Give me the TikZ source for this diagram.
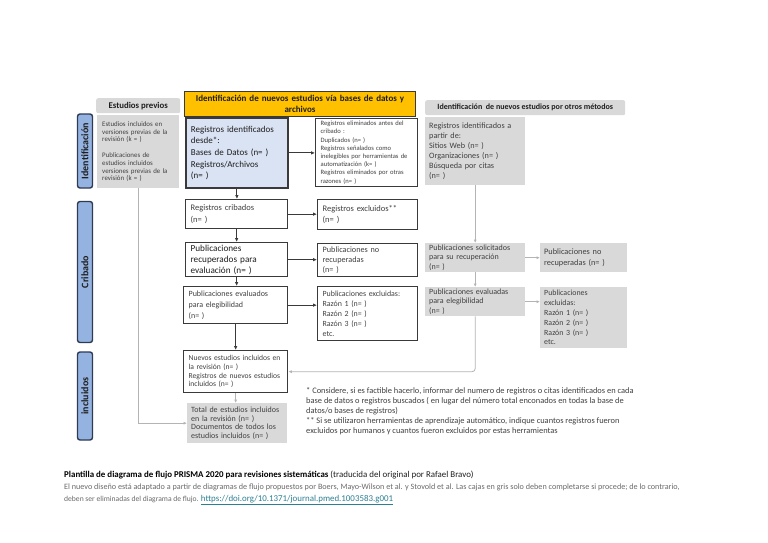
\documentclass[tikz,border=0pt]{standalone}
\usepackage{fontspec}
\setmainfont{Carlito}
\usetikzlibrary{arrows.meta}
\definecolor{bord}{HTML}{3A3A3A}
\definecolor{txt}{HTML}{404040}
\definecolor{dtxt}{HTML}{1E1E1E}
\definecolor{bluefill}{HTML}{DAE3F3}
\definecolor{orangefill}{HTML}{FFC000}
\definecolor{gfill}{HTML}{D9D9D9}
\definecolor{sidefill}{HTML}{95B3E0}
\definecolor{sidebord}{HTML}{2E3B55}
\definecolor{larr}{HTML}{B4B4B4}
\definecolor{foottxt}{HTML}{6A6A6A}
\definecolor{linkc}{HTML}{2A7F93}
\newcommand\fs[2]{\fontsize{#1}{#2}\selectfont}
\tikzset{
  bx/.style={draw=bord, line width=1.3pt, fill=white, anchor=north west, align=left,
    inner xsep=5pt, inner ysep=1pt, text=txt},
  gbx/.style={fill=gfill, anchor=north west, align=left, inner xsep=4pt, inner ysep=1pt, text=txt},
  ghdr/.style={fill=gfill, rounded corners=2pt, anchor=north west, align=center, inner sep=0pt, text=dtxt},
  side/.style={draw=sidebord, line width=1.4pt, fill=sidefill, rounded corners=2.5pt, rotate=90,
    inner sep=0pt, font=\bfseries\fs{10}{12}, text=dtxt},
  darr/.style={draw=bord, line width=0.9pt, -{Latex[length=4pt,width=3.6pt]}},
  larrow/.style={draw=larr, line width=0.8pt, -{Latex[length=3.5pt,width=3pt]}},
  footline/.style={anchor=base west, inner sep=0pt, text=foottxt, font=\fs{7.6}{9}},
}
\begin{document}
\begin{tikzpicture}[x=1pt,y=-1pt]
\useasboundingbox (0,0) rectangle (768,543);
\fill[white] (0,0) rectangle (768,543);

% side bars
\node[side, minimum width=74, minimum height=15] (s1) at (85,151) {Identificación};
\node[side, minimum width=141, minimum height=15] (s2) at (85,272) {Cribado};
\node[side, minimum width=88, minimum height=15] (s3) at (85,396) {incluidos};

% previous studies
\node[ghdr, minimum width=84, minimum height=15, font=\bfseries\fs{8.8}{10}] (K) at (96,98) {Estudios previos};
\node[gbx, minimum width=81, minimum height=73, text width=72, font=\fs{6.9}{7.8}, inner xsep=5pt] (L) at (97,115)
 {Estudios incluidos en\\versiones previas de la\\revisión (k = )\\[7.8pt]Publicaciones de\\estudios incluidos\\versiones previas de la\\revisión (k = )};

% main column
\node[draw=bord, line width=1pt, fill=orangefill, anchor=north west, minimum width=231, minimum height=25,
  text width=225, inner sep=0pt, align=center, text=dtxt, font=\bfseries\fs{9}{10.5}] (hA) at (184,91)
 {Identificación de nuevos estudios vía bases de datos y\\archivos};
\node[bx, fill=bluefill, line width=1.8pt, minimum width=102, minimum height=70, text width=92, text=dtxt, font=\fs{9}{11.6}] (A) at (185,117)
 {Registros identificados\\desde*:\\Bases de Datos (n= )\\Registros/Archivos\\(n= )};
\node[bx, minimum width=102, minimum height=68, text width=92, font=\fs{6.6}{8.2}] (B) at (315,118)
 {Registros eliminados antes del\\cribado :\\Duplicados (n= )\\Registros señalados como\\inelegibles por herramientas de\\automatización (k= )\\Registros eliminados por otras\\razones (n= )};
\node[bx, minimum width=102, minimum height=29, text width=92, font=\fs{8.5}{11.5}] (C) at (185,199)
 {Registros cribados\\(n= )};
\node[bx, minimum width=100, minimum height=30, text width=90, font=\fs{8.5}{11.5}] (D) at (317,199)
 {Registros excluidos**\\(n= )};
\node[bx, minimum width=102, minimum height=34, text width=92, text=dtxt, font=\fs{9.2}{10.8}] (E) at (185,242)
 {Publicaciones\\recuperados para\\evaluación (n= )};
\node[bx, minimum width=100, minimum height=33, text width=90, font=\fs{8.2}{10}] (F) at (317,243)
 {Publicaciones no\\recuperadas\\(n= )};
\node[bx, minimum width=104, minimum height=37, text width=94, font=\fs{8}{10.8}] (G) at (183,286)
 {Publicaciones evaluados\\para elegibilidad\\(n= )};
\node[bx, minimum width=100, minimum height=54, text width=90, font=\fs{7.9}{10}] (H) at (317,286)
 {Publicaciones excluidas:\\Razón 1 (n= )\\Razón 2 (n= )\\Razón 3 (n= )\\etc.};
\node[bx, minimum width=104, minimum height=42, text width=94, font=\fs{7.6}{8.6}] (I) at (183,350)
 {Nuevos estudios incluidos en\\la revisión (n= )\\Registros de nuevos estudios\\incluidos (n= )};
\node[gbx, minimum width=100, minimum height=40, text width=92, font=\fs{8}{8.8}] (J) at (187,403)
 {Total de estudios incluidos\\en la revisión (n= )\\Documentos de todos los\\estudios incluidos (n= )};

% other methods column
\node[ghdr, minimum width=200, minimum height=15, font=\bfseries\fs{8}{9}] (M) at (425,100)
 {Identificación\ \ de nuevos estudios por otros métodos};
\node[gbx, minimum width=100, minimum height=68, text width=92, font=\fs{8.2}{10}] (N) at (425,117)
 {Registros identificados a\\partir de:\\Sitios Web (n= )\\Organizaciones (n= )\\Búsqueda por citas\\(n= )};
\node[gbx, minimum width=100, minimum height=29, text width=92, font=\fs{8}{9.2}] (O) at (425,243)
 {Publicaciones solicitados\\para su recuperación\\(n= )};
\node[gbx, minimum width=87, minimum height=29, text width=79, font=\fs{8.3}{10.5}] (P) at (540,243)
 {Publicaciones no\\recuperadas (n= )};
\node[gbx, minimum width=100, minimum height=29, text width=92, font=\fs{8}{9.2}] (Q) at (425,287)
 {Publicaciones evaluadas\\para elegibilidad\\(n= )};
\node[gbx, minimum width=87, minimum height=61, text width=79, font=\fs{7.9}{9.8}] (R) at (540,287)
 {Publicaciones\\excluidas:\\Razón 1 (n= )\\Razón 2 (n= )\\Razón 3 (n= )\\etc.};

% connectors main column
\draw[darr] (A.south) -- (A.south |- C.north);
\draw[darr] (A.east) -- (A.east -| B.west);
\draw[darr] (C.east) -- (C.east -| D.west);
\draw[darr] (C.south) -- (C.south |- E.north);
\draw[darr] (E.east) -- (E.east -| F.west);
\draw[darr] (E.south) -- (E.south |- G.north);
\draw[darr] (G.east) -- (G.east -| H.west);
\draw[darr] (G.south) -- (G.south |- I.north);
\draw[larrow] (I.south) -- (I.south |- J.north);
\draw[larrow] (L.south) -- (L.south |- J.west) -- (J.west);

% connectors other methods
\draw[larrow] (N.south) -- (N.south |- O.north);
\draw[larrow] (O.east) -- (O.east -| P.west);
\draw[larrow] (O.south) -- (O.south |- Q.north);
\draw[larrow] (Q.east) -- (Q.east -| R.west);
\draw[larrow, rounded corners=3pt] (Q.south) |- (I.east);

% footnotes
\node[anchor=north west, align=left, inner sep=0pt, text=txt, font=\fs{8.4}{10}] (fn) at (306,387)
 {* Considere, si es factible hacerlo, informar del numero de registros o citas identificados en cada\\
  base de datos o registros buscados ( en lugar del número total enconados en todas la base de\\
  datos/o bases de registros)\\
  ** Si se utilizaron herramientas de aprendizaje automático, indique cuantos registros fueron\\
  excluidos por humanos y cuantos fueron excluidos por estas herramientas};

\node[footline, font=\fs{8.9}{10}] (f1) at (64,477)
 {{\color{black}\bfseries Plantilla de diagrama de flujo PRISMA 2020 para revisiones sistemáticas} {\color{dtxt}(traducida del original por Rafael Bravo)}};
\node[footline, font=\fs{8.15}{10}] (f2) at (64,489.5)
 {El nuevo diseño está adaptado a partir de diagramas de flujo propuestos por Boers, Mayo-Wilson et al. y Stovold et al. Las cajas en gris solo deben completarse si procede; de lo contrario,};
\node[footline] (f3) at (64,501)
 {deben ser eliminadas del diagrama de flujo. {\fs{8.9}{10}\color{linkc}\underline{https://doi.org/10.1371/journal.pmed.1003583.g001}}};
\end{tikzpicture}
\end{document}
